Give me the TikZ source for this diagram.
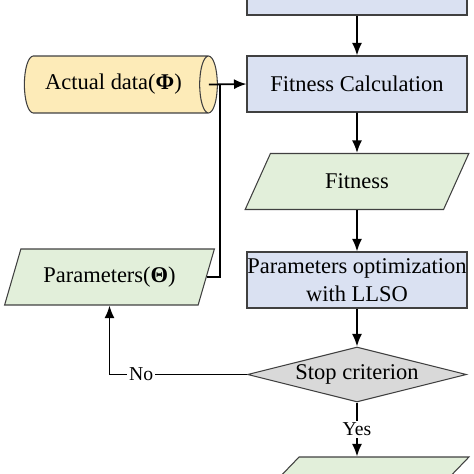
\documentclass[tikz,border=0pt]{standalone}
\usepackage{fontspec}
\setmainfont{Liberation Serif}
\usetikzlibrary{shapes.geometric,arrows.meta}
\definecolor{boxblue}{HTML}{DAE1F2}
\definecolor{boxgreen}{HTML}{E2EFDA}
\definecolor{datayellow}{HTML}{FDEBB8}
\definecolor{decgray}{HTML}{D9D9D9}
\definecolor{edgegray}{HTML}{404040}

\begin{document}
\begin{tikzpicture}[
    x=0.02cm, y=-0.02cm,
    font=\fontsize{12.8}{16}\selectfont,
    arr/.style={-{Latex[length=2.5mm,width=2mm]}, line width=1pt},
    proc/.style={rectangle, draw=edgegray, fill=boxblue, line width=0.6pt,
        minimum width=4.4cm, minimum height=1.12cm, inner sep=0pt, align=center},
    io/.style={trapezium, trapezium left angle=65, trapezium right angle=115,
        trapezium stretches=true, draw=edgegray, fill=boxgreen, line width=0.6pt,
        minimum height=1.12cm, inner sep=2pt},
    store/.style={cylinder, draw=edgegray, line width=0.6pt, aspect=0.55,
        cylinder uses custom fill, cylinder body fill=datayellow,
        cylinder end fill=datayellow, minimum width=1.14cm, minimum height=3.86cm},
    decide/.style={diamond, draw=edgegray, fill=decgray, line width=0.6pt,
        aspect=4, minimum width=4.38cm, minimum height=1.1cm, inner sep=0pt},
    lbl/.style={fill=white, inner sep=1pt, font=\fontsize{11.2}{13}\selectfont}
    ]
    \clip (0,0) rectangle (474,474);

    \node[proc] (init) at (357,-13) {};
    \node[proc] (fitcalc) at (357,84) {Fitness Calculation};
    \node[store] (actual) at (113.5,84.5) {Actual data(\textbf{Φ})};
    \node[io, minimum width=4.48cm] (fitness) at (357,181.5) {Fitness};
    \node[proc] (paropt) at (357,280) {Parameters optimization\\with LLSO};
    \node[io, minimum width=4.22cm] (params) at (109.5,277) {Parameters(\textbf{Θ})};
    \node[decide] (stop) at (357,374.5) {Stop criterion};
    \node[io, minimum width=4.48cm] (result) at (357,485) {};
    \coordinate (fb) at (220,84);

    \draw[arr] (init) -- (fitcalc);
    \draw[arr] ([xshift=-0.18cm]actual.east) -- (fitcalc.west);
    \draw[line width=1pt] (params.east) -| (fb);
    \draw[arr] (fitcalc) -- (fitness);
    \draw[arr] (fitness) -- (paropt);
    \draw[arr] (paropt) -- (stop);
    \draw[arr] (stop.west) -| node[lbl, pos=0.385]{No} (params.south);
    \draw[arr] (stop.south) -- node[lbl]{Yes} (result.north);

\end{tikzpicture}
\end{document}
